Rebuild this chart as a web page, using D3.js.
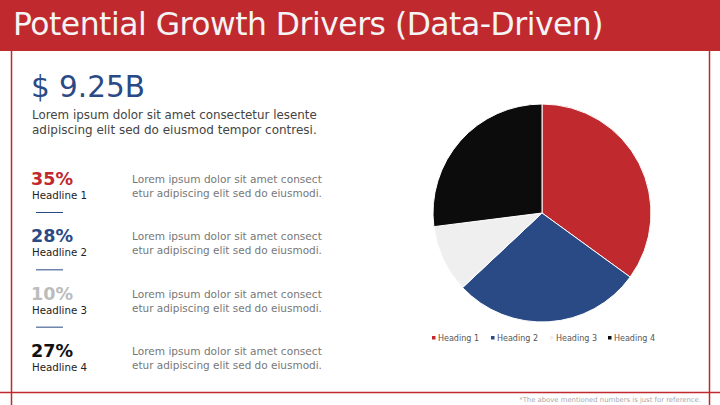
<!DOCTYPE html>
<html>
<head>
<meta charset="utf-8">
<script src="https://cdn.jsdelivr.net/npm/d3@7"></script>
<style>
  body { margin: 0; background: #fff; }
  svg { display: block; font-family: "DejaVu Sans", sans-serif; }
</style>
</head>
<body>
<svg id="slide"></svg>
<script>
// chart data
const categories = ['Heading 1', 'Heading 2', 'Heading 3', 'Heading 4'];
const shares = [35, 28, 10, 27];
const sliceColors = ['#c0292e', '#2a4a85', '#efefef', '#0c0c0c'];
const headlines = ['Headline 1', 'Headline 2', 'Headline 3', 'Headline 4'];
const pctColors = ['#c0292e', '#2a4a85', '#bcbcbc', '#111111'];

const width = 720, height = 405;
const red = '#c0292e';

const svg = d3.select('#slide')
    .attr('width', width)
    .attr('height', height);

// shrink/grow font so the text spans roughly the wanted width
function fit(sel, w) {
    sel.each(function () {
        const len = this.getComputedTextLength();
        const fs = parseFloat(this.style.fontSize);
        if (len > 0) d3.select(this).style('font-size', (fs * w / len).toFixed(2) + 'px');
    });
    return sel;
}

// header band
svg.append('rect')
    .attr('x', 0).attr('y', 0)
    .attr('width', width).attr('height', 51)
    .attr('fill', red);

svg.append('text')
    .attr('x', 13)
    .attr('y', 35)
    .attr('fill', '#f4f4f4')
    .style('font-size', '27px')
    .style('letter-spacing', '-0.5px')
    .text('Potential Growth Drivers (Data-Driven)')
    .call(fit, 587);

// frame lines
svg.append('line').attr('x1', 11.5).attr('x2', 11.5).attr('y1', 51).attr('y2', height)
    .attr('stroke', red).attr('stroke-width', 1.5);
svg.append('line').attr('x1', 709.5).attr('x2', 709.5).attr('y1', 51).attr('y2', height)
    .attr('stroke', red).attr('stroke-width', 1.5);
svg.append('line').attr('x1', 0).attr('x2', width).attr('y1', 392.5).attr('y2', 392.5)
    .attr('stroke', red).attr('stroke-width', 1.5);

// big number + intro
svg.append('text')
    .attr('x', 31).attr('y', 97)
    .attr('fill', '#2a4a85')
    .style('font-size', '28px')
    .text('$ 9.25B')
    .call(fit, 114);

const intro = ['Lorem ipsum dolor sit amet consectetur lesente',
    'adipiscing elit sed do eiusmod tempor contresi.'];
svg.append('g').selectAll('text')
    .data(intro)
    .join('text')
    .attr('x', 32)
    .attr('y', (d, i) => 119 + i * 15)
    .attr('fill', '#444')
    .style('font-size', '12px')
    .text(d => d)
    .call(fit, 285);

// rows
const rowY = d3.scalePoint()
    .domain(categories)
    .range([185, 357]);

const rows = svg.append('g').selectAll('g')
    .data(categories)
    .join('g')
    .attr('transform', d => `translate(0, ${rowY(d)})`);

rows.append('text')
    .attr('x', 31)
    .attr('fill', (d, i) => pctColors[i])
    .style('font-size', '18px')
    .style('font-weight', 600)
    .text((d, i) => shares[i] + '%')
    .call(fit, 42);

rows.append('text')
    .attr('x', 32)
    .attr('y', 14)
    .attr('fill', '#222')
    .style('font-size', '11px')
    .text((d, i) => headlines[i])
    .call(fit, 55);

rows.filter((d, i) => i < categories.length - 1)
    .append('line')
    .attr('x1', 36).attr('x2', 63)
    .attr('y1', 27.5).attr('y2', 27.5)
    .attr('stroke', '#2a4a85')
    .attr('stroke-width', 1);

const desc = ['Lorem ipsum dolor sit amet consect', 'etur adipiscing elit sed do eiusmodi.'];
rows.selectAll('.desc')
    .data(desc)
    .join('text')
    .attr('class', 'desc')
    .attr('x', 132)
    .attr('y', (d, i) => -2 + i * 14)
    .attr('fill', '#777')
    .style('font-size', '11px')
    .text(d => d)
    .call(fit, 190);

// pie
const cx = 542, cy = 213, r = 109;
const pie = d3.pie().sort(null).value(d => d)(shares);
const arc = d3.arc().innerRadius(0).outerRadius(r);

svg.append('g')
    .attr('transform', `translate(${cx}, ${cy})`)
    .selectAll('path')
    .data(pie)
    .join('path')
    .attr('d', arc)
    .attr('fill', (d, i) => sliceColors[i])
    .attr('stroke', '#fff')
    .attr('stroke-width', 1);

// legend
const legendX = d3.scaleOrdinal()
    .domain(categories)
    .range([432, 491, 550, 608]);

const legend = svg.append('g').selectAll('g')
    .data(categories)
    .join('g')
    .attr('transform', d => `translate(${legendX(d)}, 341)`);

legend.append('rect')
    .attr('x', 0).attr('y', -5)
    .attr('width', 3.5).attr('height', 3.5)
    .attr('fill', (d, i) => sliceColors[i]);

legend.append('text')
    .attr('x', 6)
    .attr('y', 0)
    .attr('fill', '#555')
    .style('font-size', '8px')
    .text(d => d)
    .call(fit, 41);

// footnote
svg.append('text')
    .attr('x', 701)
    .attr('y', 402)
    .attr('text-anchor', 'end')
    .attr('fill', '#aaa')
    .style('font-size', '7px')
    .text('*The above mentioned numbers is just for reference.')
    .call(fit, 182);
</script>
</body>
</html>
